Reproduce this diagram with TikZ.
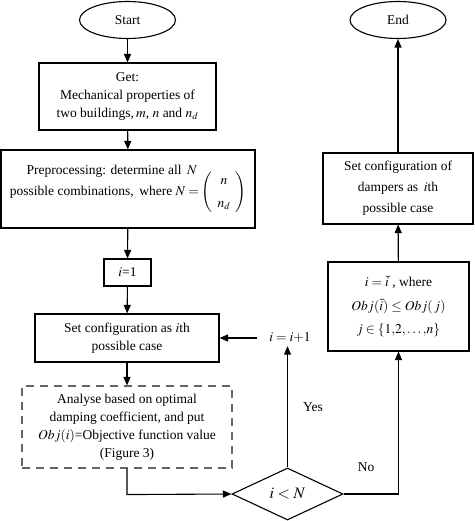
\documentclass[tikz,border=0pt]{standalone}
\usepackage{mathptmx}
\usepackage{fontspec}
\setmainfont{Liberation Serif}
\usetikzlibrary{shapes.geometric,arrows.meta}
\begin{document}
\begin{tikzpicture}[x=1pt,y=-1pt,
  every node/.style={font=\fontsize{13.5}{18}\selectfont},
  box/.style={draw,line width=1.1pt,rectangle,inner sep=0pt,align=center},
  oval/.style={draw,line width=1.1pt,ellipse,inner sep=0pt,minimum width=96pt,minimum height=37pt},
  dbox/.style={draw=black!60,line width=1.1pt,dash pattern=on 8pt off 6pt,inner sep=0pt,align=center},
  dia/.style={draw,line width=1.1pt,diamond,inner sep=0pt,minimum width=111pt,minimum height=52pt,aspect=2.13},
  arr/.style={line width=1.1pt,-{Triangle[length=8.5pt,width=7pt]}},
  ln/.style={line width=1.1pt}]
\useasboundingbox (0,0) rectangle (474,521);
\node[oval] (start) at (127.5,20) {Start};
\node[oval] (end) at (398,20) {End};
\node[box,minimum width=177pt,minimum height=67pt] (get) at (127.5,96.5) {Get:\\Mechanical properties of\\two buildings,\,$m$, $n$ and $n_d$};
\node[box,minimum width=254pt,minimum height=78pt] (pre) at (128,189) {Preprocessing: determine all \,$N$\hspace*{2.4em}\\[-7pt]possible combinations,\, where $N=\left(\begin{array}{c}n\\[5pt] n_d\end{array}\right)$};
\node[box,minimum width=47pt,minimum height=27pt] (i1) at (127.5,272.5) {$i$=1};
\node[box,minimum width=184pt,minimum height=48pt] (setc) at (127,338) {Set configuration as $i$th\\possible case};
\node[dbox,minimum width=210pt,minimum height=82pt] (ana) at (127,427) {Analyse based on optimal\\damping coefficient, and put\\$Obj(i)$=Objective function value\\(Figure 3)};
\node[dia] (cond) at (287.5,494) {\fontsize{16}{18}\selectfont$i<N$};
\node[inner sep=0pt,minimum width=36pt,minimum height=16pt] (incr) at (290,338) {$i=i{+}1$};
\node (yes) at (313,407) {Yes};
\node (no) at (366,467) {No};
\node[box,minimum width=141pt,minimum height=89pt,font=\fontsize{13.5}{23.5}\selectfont] (best) at (398.5,306.5) {$i=\bar{i}$\ , where\\$Obj(\bar{i})\le Obj(\,j)$\\$j\in\{1{,}2{,}\ldots{,}n\}$};
\node[box,minimum width=150pt,minimum height=71pt,font=\fontsize{13.5}{21}\selectfont] (damp) at (398,188.5) {Set configuration of\\dampers as \,$i$th\\possible case};
\draw[arr] (start) -- (get);
\draw[arr] (get) -- (pre);
\draw[arr] (pre) -- (i1);
\draw[arr] (i1) -- (setc);
\draw[arr] (setc) -- (ana);
\draw[arr] (ana.south) -- ++(0,26) -- (cond.west);
\draw[arr] (cond.north) -- (cond.north |- incr.south);
\draw[arr] ([xshift=-12pt]incr.west) -- (setc.east);
\draw[arr] (cond.east) -| (best.south);
\draw[arr] (best) -- (damp);
\draw[arr] (damp) -- (end);
\end{tikzpicture}
\end{document}
